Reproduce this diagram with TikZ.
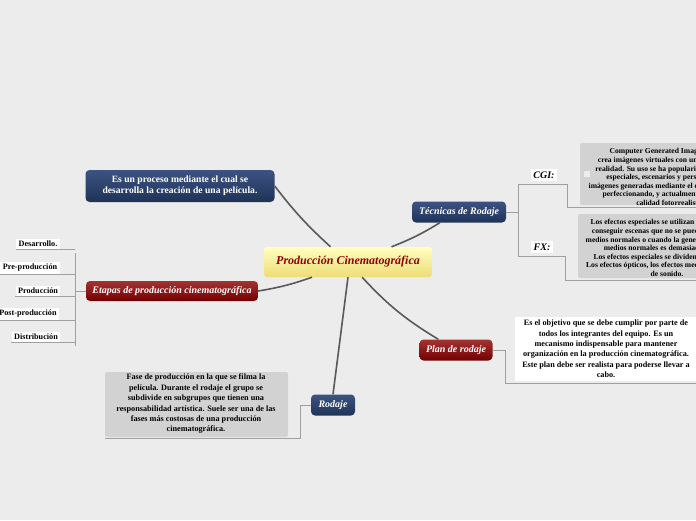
\documentclass[tikz,border=0pt]{standalone}
\usepackage{fontspec}
\setmainfont{Liberation Serif}
\definecolor{navy}{HTML}{1F3358}
\definecolor{navyl}{HTML}{3C5382}
\begin{document}
\begin{tikzpicture}[x=1pt,y=-1pt,
 main/.style={draw=none,rounded corners=3pt,top color=yellow!25!white,bottom color=yellow!55!brown!60,font=\bfseries\itshape\fontsize{12}{14}\selectfont,text=red!55!black,minimum width=168pt,minimum height=30pt},
 blue/.style={rounded corners=4pt,top color=navyl,bottom color=navy,text=white,font=\bfseries\fontsize{9.6}{11}\selectfont,align=center},
 red/.style={rounded corners=4pt,top color=red!55!black!80!white,bottom color=red!45!black,text=white,font=\bfseries\itshape\fontsize{10}{12}\selectfont},
 leaf/.style={fill=white,font=\bfseries\fontsize{8.2}{10}\selectfont,inner sep=2.5pt},
 note/.style={font=\bfseries\fontsize{8.2}{10.4}\selectfont,align=center},
 snote/.style={font=\bfseries\fontsize{7.6}{8.6}\selectfont,align=center},
 conn/.style={draw=gray!70!black,line width=1.6pt},
 br/.style={draw=gray!75,line width=0.6pt}]
\useasboundingbox[fill=gray!15] (0,0) rectangle (696,520);
\node[main] (c) at (348,262) {Producción Cinematográfica};
\node[blue,minimum width=189pt,minimum height=32pt] (d) at (180,186) {Es un proceso mediante el cual se\\desarrolla la creación de una película.};
\node[blue,font=\bfseries\itshape\fontsize{10}{12}\selectfont,minimum width=94pt,minimum height=21pt] (t) at (459,212) {Técnicas de Rodaje};
\node[red,minimum width=172pt,minimum height=20pt] (e) at (172,291) {Etapas de producción cinematográfica};
\node[red,minimum width=73pt,minimum height=21pt] (p) at (456,350) {Plan de rodaje};
\node[blue,font=\bfseries\itshape\fontsize{10}{12}\selectfont,minimum width=44pt,minimum height=21pt] (r) at (333,405) {Rodaje};
\draw[conn] (c) to[bend left=5] (d.east);
\draw[conn] (c) to[bend right=5] (t);
\draw[conn] (c) to[bend left=5] (e.east);
\draw[conn] (c) to[bend right=8] (p);
\draw[conn] (c.south) -- (r.north);
% etapas leaves
\coordinate (ej) at (75,291);
\draw[br] (e.west) -- (ej);
\draw[br] (75,253) -- (75,346);
\foreach \n/\t/\x/\y in {l1/Desarrollo./38/244,l2/Pre-producción/30/268,l3/Producción/38/291,l4/Post-producción/28/314,l5/Distribución/36/337}{
 \node[leaf] (\n) at (\x,\y) {\t};
 \draw[br] (\n.south west) -- (\n.south west -| ej);
}
% técnicas
\draw[br] (t.east) -- (518,212);
\draw[br] (518,184) -- (518,256);
\node[leaf,font=\bfseries\itshape\fontsize{10}{12}\selectfont] (cgi) at (544,175) {CGI:};
\node[leaf,font=\bfseries\itshape\fontsize{10}{12}\selectfont] (fx) at (542,247) {FX:};
\draw[br] (518,184) -- (567,184) -- (567,207) -- (696,207);
\draw[br] (518,256) -- (565,256) -- (565,280) -- (696,280);
\fill[gray!35,rounded corners=2pt] (580,143) rectangle (720,205);
\fill[white!85!gray] (584,171) rectangle (590,177);
\node[snote,anchor=north] (cgit) at (670,145) {Computer Generated Imagery o CGI\\crea imágenes virtuales con un alto grado de\\realidad. Su uso se ha popularizado en efectos\\especiales, escenarios y personajes. Las\\imágenes generadas mediante el ordenador se han\\perfeccionando, y actualmente tienen una\\calidad fotorrealista.};
\fill[gray!35,rounded corners=2pt] (578,214) rectangle (720,278);
\node[snote,anchor=north] (fxt) at (667,216) {Los efectos especiales se utilizan en el cine para\\conseguir escenas que no se pueden lograr por\\medios normales o cuando la generación por otros\\medios normales es demasiado costosa.\\Los efectos especiales se dividen en tres tipos:\\Los efectos ópticos, los efectos mecánicos y efectos\\de sonido.};
% plan
\draw[br] (p.east) -- (505,350);
\draw[br] (505,350) -- (505,383) -- (696,383);
\fill[white] (515,317) rectangle (696,381);
\node[note] (pt) at (606,349) {Es el objetivo que se debe cumplir por parte de\\todos los integrantes del equipo. Es un\\mecanismo indispensable para mantener\\organización en la producción cinematográfica.\\Este plan debe ser realista para poderse llevar a\\cabo.};
% rodaje
\draw[br] (r.west) -- (300,405) -- (300,438) -- (105,438);
\fill[gray!35,rounded corners=2pt] (105,372) rectangle (288,437);
\node[note] (rt) at (196,404) {Fase de producción en la que se filma la\\película. Durante el rodaje el grupo se\\subdivide en subgrupos que tienen una\\responsabilidad artística. Suele ser una de las\\fases más costosas de una producción\\cinematográfica.};
\end{tikzpicture}
\end{document}
